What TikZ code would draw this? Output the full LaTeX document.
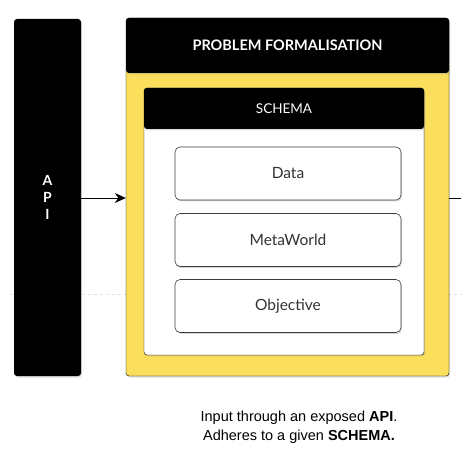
\documentclass[tikz,border=0pt]{standalone}
\usepackage{fontspec}
\setmainfont{Lato}
\newfontfamily\capfont{Liberation Sans}
\usepackage{tikz}
\usetikzlibrary{arrows.meta}
\usetikzlibrary{shadows}
\definecolor{formyellow}{RGB}{250,222,92}
\definecolor{boxline}{RGB}{60,60,60}

\begin{document}
\begin{tikzpicture}[x=1pt,y=-1pt]
		\useasboundingbox (0,0) rectangle (474,462);
		\draw[black!12,dashed] (10,294) -- (462,294);

		\begin{scope}[every node/.style={rectangle,rounded corners=3pt,inner sep=0pt,
		              drop shadow={opacity=0.25,shadow xshift=1pt,shadow yshift=-1.5pt}}]
			\node[fill=black,minimum width=67pt,minimum height=357pt,
			      text=white,align=center,font=\bfseries\fontsize{14}{17}\selectfont] (api) at (47.5,197.5) {A\\P\\I};
			\node[fill=formyellow,draw=black,thin,minimum width=323pt,minimum height=358pt] (prob) at (287.5,197) {};
			\node[fill=black,minimum width=323pt,minimum height=55pt,
			      text=white,font=\bfseries\fontsize{14.5}{17}\selectfont] (probhead) at (287.5,45.5) {PROBLEM FORMALISATION};
			\node[fill=white,draw=black,thin,minimum width=280pt,minimum height=267pt] (schema) at (284,221.5) {};
			\node[fill=black,minimum width=280pt,minimum height=41pt,
			      text=white!85,font=\fontsize{13.5}{16}\selectfont] (schemahead) at (284,108.5) {SCHEMA};
		\end{scope}

		\begin{scope}[every node/.style={rectangle,rounded corners=5pt,draw=boxline,semithick,fill=white,
		              minimum width=226pt,minimum height=53pt,text=black!80,font=\fontsize{15.5}{18}\selectfont,
		              drop shadow={opacity=0.3,shadow xshift=1pt,shadow yshift=-1.5pt}}]
			\node (data) at (288,173.5) {Data};
			\node (meta) at (288,240) {MetaWorld};
			\node (obj) at (288,306) {Objective};
		\end{scope}

		\coordinate (out) at (461,198);

		\begin{scope}[>={Stealth[black,length=11pt,width=10pt]},
		              every edge/.style={draw=black,thick}]
			\path (api.east |- 0,198) edge[->] (prob.west |- 0,198);
			\path (prob.east |- out) edge (out);
		\end{scope}

		\node[align=center,font=\capfont\fontsize{14.5}{19}\selectfont] (caption) at (299,427)
			{Input through an exposed \textbf{API}.\\Adheres to a given \textbf{SCHEMA.}};
\end{tikzpicture}
\end{document}
